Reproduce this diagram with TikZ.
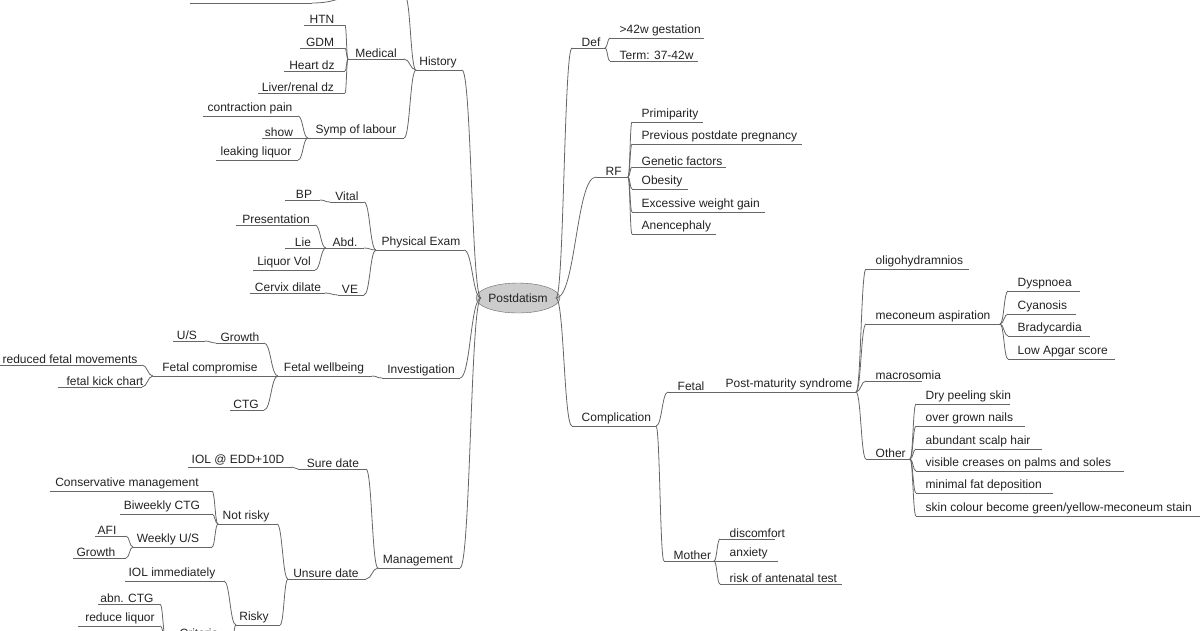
\documentclass[tikz,border=0pt]{standalone}
\usepackage{fontspec}
\setmainfont{Liberation Sans}
\usetikzlibrary{calc,shapes.geometric}
\definecolor{tx}{HTML}{222222}
\definecolor{ln}{HTML}{666666}
\tikzset{lbl/.style={font=\fontsize{12}{14}\selectfont,text=tx,inner sep=1.5pt},
 ul/.style={draw=ln,line width=0.8pt},
 lk/.style={draw=ln,line width=0.8pt}}
\newcommand\mm[6]{\node[lbl,anchor=south] (#1) at (#2,#5) {#6};
 \coordinate (#1-l) at (#3,#5); \coordinate (#1-r) at (#4,#5); \draw[ul] (#1-l)--(#1-r);}
\newcommand\mr[6]{\node[lbl,anchor=south west] (#1) at (#3+8,#5) {#6};
 \coordinate (#1-l) at (#3,#5); \coordinate (#1-r) at (#4,#5); \draw[ul] (#1-l)--(#1-r);}
\newcommand\lk[2]{\draw[lk] let \p1=(#1-l), \p2=(#2-r) in (\p1) .. controls ({(\x1+\x2)/2},\y1) and ({(\x1+\x2)/2},\y2) .. (\p2);}
\newcommand\rk[2]{\draw[lk] let \p1=(#1-r), \p2=(#2-l) in (\p1) .. controls ({(\x1+\x2)/2},\y1) and ({(\x1+\x2)/2},\y2) .. (\p2);}
\begin{document}
\begin{tikzpicture}[x=1pt,y=-1pt]
\useasboundingbox (0,0) rectangle (1200,630);
\clip (0,0) rectangle (1200,630);
\node[ellipse,draw=ln,fill=gray!40,minimum width=76pt,minimum height=30pt,inner sep=0pt,font=\fontsize{12}{14}\selectfont,text=tx] (P) at (518,298) {Postdatism};
\coordinate (P-l) at (481,298); \coordinate (P-r) at (556,298);
\mr{def}{588}{572}{605}{48}{Def}
\mr{d1}{660}{610}{704}{38}{>42w gestation}
\mr{d2}{657}{610}{698}{61}{Term: 37-42w}
\mr{rf}{610}{596}{628}{177}{RF}
\mr{r1}{671}{632}{703}{122}{Primiparity}
\mr{r2}{720}{632}{802}{144}{Previous postdate pregnancy}
\mr{r3}{682}{632}{726}{167}{Genetic factors}
\mr{r4}{662}{632}{688}{189}{Obesity}
\mr{r5}{701}{632}{765}{212}{Excessive weight gain}
\mr{r6}{677}{632}{716}{234}{Anencephaly}
\mr{co}{614}{572}{656}{426}{Complication}
\mr{fe}{686}{668}{706}{392}{Fetal}
\mr{pm}{786}{716}{856}{392}{Post-maturity syndrome}
\mr{o1}{905}{866}{969}{269}{oligohydramnios}
\mr{o2}{933}{866}{1000}{324}{meconeum aspiration}
\mr{m1}{1043}{1008}{1080}{291}{Dyspnoea}
\mr{m2}{1041}{1008}{1076}{314}{Cyanosis}
\mr{m3}{1048}{1008}{1090}{336}{Bradycardia}
\mr{m4}{1061}{1008}{1115}{359}{Low Apgar score}
\mr{o3}{908}{866}{922}{381}{macrosomia}
\mr{o4}{889}{866}{910}{459}{Other}
\mr{x1}{962}{916}{1010}{404}{Dry peeling skin}
\mr{x2}{970}{916}{1025}{426}{over grown nails}
\mr{x3}{980}{916}{1042}{449}{abundant scalp hair}
\mr{x4}{1022}{916}{1124}{471}{visible creases on palms and soles}
\mr{x5}{986}{916}{1053}{493}{minimal fat deposition}
\mr{x6}{1062}{916}{1200}{516}{skin colour become green/yellow-meconeum stain}
\mr{mo}{691}{664}{714}{561}{Mother}
\mr{y1}{747}{720}{775}{539}{discomfort}
\mr{y2}{735}{720}{778}{561}{anxiety}
\mr{y3}{776}{720}{842}{584}{risk of antenatal test}
\rk{P}{def}\rk{def}{d1}\rk{def}{d2}
\rk{P}{rf}\rk{rf}{r1}\rk{rf}{r2}\rk{rf}{r3}\rk{rf}{r4}\rk{rf}{r5}\rk{rf}{r6}
\rk{P}{co}\rk{co}{fe}\rk{fe}{pm}\rk{co}{mo}
\rk{pm}{o1}\rk{pm}{o2}\rk{pm}{o3}\rk{pm}{o4}
\rk{o2}{m1}\rk{o2}{m2}\rk{o2}{m3}\rk{o2}{m4}
\rk{o4}{x1}\rk{o4}{x2}\rk{o4}{x3}\rk{o4}{x4}\rk{o4}{x5}\rk{o4}{x6}
\rk{mo}{y1}\rk{mo}{y2}\rk{mo}{y3}
\mm{hi}{438}{416}{462}{70}{History}
\coordinate (hx-l) at (362,-4); \coordinate (hx-r) at (405,-4); \draw[ul] (hx-l)--(hx-r);
\coordinate (hy-l) at (190,3); \coordinate (hy-r) at (312,3); \draw[ul] (hy-l)--(hy-r);
\mm{me}{376}{348}{404}{59}{Medical}
\mm{h1}{322}{304}{345}{25}{HTN}
\mm{h2}{320}{300}{345}{48}{GDM}
\mm{h3}{312}{284}{345}{71}{Heart dz}
\mm{h4}{298}{258}{345}{93}{Liver/renal dz}
\mm{sy}{356}{308}{404}{138}{Symp of labour}
\mm{s1}{250}{203}{298}{116}{contraction pain}
\mm{s2}{279}{262}{298}{138}{show}
\mm{s3}{256}{216}{298}{160}{leaking liquor}
\lk{P}{hi}\lk{hi}{hx}\lk{hx}{hy}\lk{hi}{me}\lk{hi}{sy}
\lk{me}{h1}\lk{me}{h2}\lk{me}{h3}\lk{me}{h4}
\lk{sy}{s1}\lk{sy}{s2}\lk{sy}{s3}
\mm{pe}{421}{376}{464}{250}{Physical Exam}
\mm{vi}{347}{330}{364}{202}{Vital}
\mm{bp}{304}{285}{320}{200}{BP}
\mm{ab}{345}{326}{364}{248}{Abd.}
\mm{a1}{276}{236}{315}{225}{Presentation}
\mm{a2}{303}{285}{315}{248}{Lie}
\mm{a3}{284}{253}{315}{270}{Liquor Vol}
\mm{ve}{350}{338}{364}{295}{VE}
\mm{v1}{288}{250}{325}{293}{Cervix dilate}
\lk{P}{pe}\lk{pe}{vi}\lk{pe}{ab}\lk{pe}{ve}\lk{vi}{bp}
\lk{ab}{a1}\lk{ab}{a2}\lk{ab}{a3}\lk{ve}{v1}
\mm{in}{421}{382}{460}{378}{Investigation}
\mm{fw}{324}{278}{372}{376}{Fetal wellbeing}
\mm{gr}{240}{216}{264}{343}{Growth}
\mm{us}{187}{173}{205}{341}{U/S}
\mm{fc}{210}{153}{266}{376}{Fetal compromise}
\mm{f1}{70}{0}{142}{365}{reduced fetal movements}
\mm{f2}{105}{58}{142}{387}{fetal kick chart}
\mm{ct}{246}{230}{264}{410}{CTG}
\lk{P}{in}\lk{in}{fw}\lk{fw}{gr}\lk{fw}{fc}\lk{fw}{ct}\lk{gr}{us}\lk{fc}{f1}\lk{fc}{f2}
\mm{ma}{418}{378}{460}{568}{Management}
\mm{sd}{333}{298}{366}{469}{Sure date}
\mm{s0}{238}{188}{292}{467}{IOL @ EDD+10D}
\mm{ud}{326}{288}{366}{579}{Unsure date}
\mm{nr}{246}{218}{277}{524}{Not risky}
\mm{n1}{127}{50}{212}{491}{Conservative management}
\mm{n2}{162}{120}{212}{514}{Biweekly CTG}
\mm{n3}{168}{133}{212}{547}{Weekly U/S}
\mm{w1}{107}{95}{126}{536}{AFI}
\mm{w2}{96}{73}{126}{558}{Growth}
\mm{ri}{254}{236}{280}{625}{Risky}
\mm{i1}{172}{125}{224}{581}{IOL immediately}
\mm{cr}{199}{166}{232}{639}{Criteria}
\mm{c1}{127}{98}{160}{604}{abn. CTG}
\mm{c2}{120}{78}{160}{626}{reduce liquor}
\lk{P}{ma}\lk{ma}{sd}\lk{ma}{ud}\lk{sd}{s0}\lk{ud}{nr}\lk{ud}{ri}
\lk{nr}{n1}\lk{nr}{n2}\lk{nr}{n3}\lk{n3}{w1}\lk{n3}{w2}
\lk{ri}{i1}\lk{ri}{cr}\lk{cr}{c1}\lk{cr}{c2}
\end{tikzpicture}
\end{document}
